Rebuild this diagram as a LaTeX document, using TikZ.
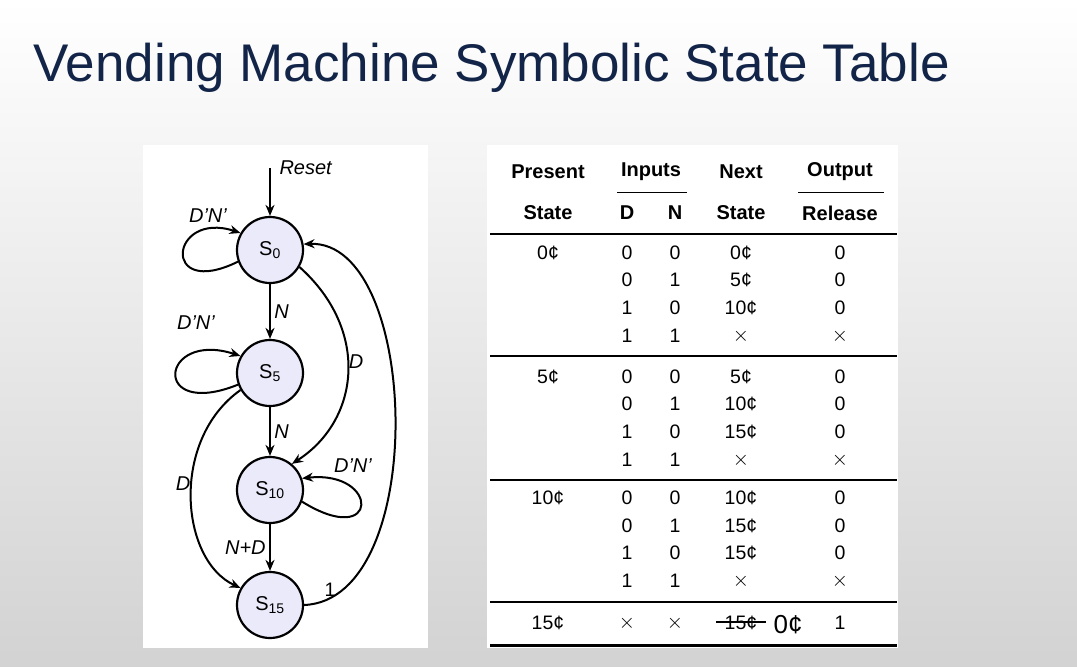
\documentclass[tikz,border=0pt]{standalone}
\usepackage{fontspec}
\setmainfont{Liberation Sans}
\usetikzlibrary{arrows.meta}
\definecolor{navy}{RGB}{18,36,72}
\definecolor{stfill}{RGB}{234,234,250}
\begin{document}
\begin{tikzpicture}[x=1pt,y=-1pt,
  st/.style={circle,draw,line width=2.2pt,fill=stfill,minimum size=66pt,inner sep=0pt,font=\fontsize{20}{20}\selectfont},
  ar/.style={line width=2pt,-{Stealth[length=11pt,width=9pt]}},
  lb/.style={font=\fontsize{20}{20}\selectfont\itshape},
  tx/.style={font=\fontsize{19.5}{20}\selectfont},
  hd/.style={font=\fontsize{20}{20}\selectfont\bfseries}]
\shade[top color=white,bottom color=gray!35] (0,0) rectangle (1077,667);
\useasboundingbox (0,0) rectangle (1077,667);
\node[anchor=west,text=navy,font=\fontsize{53}{53}\selectfont] (title) at (30,68) {Vending Machine Symbolic State Table};
\fill[white] (143,145) rectangle (428,648);
\fill[white] (487,145) rectangle (898,648);
% states
\node[st] (s0) at (270,250) {S\textsubscript{0}};
\node[st] (s5) at (270,373) {S\textsubscript{5}};
\node[st] (s10) at (270,490) {S\textsubscript{10}};
\node[st] (s15) at (270,605) {S\textsubscript{15}};
\coordinate (rst) at (270,168);
\draw[ar] (rst) -- (s0);
\node[lb,anchor=west] (rl) at (276,168) {Reset};
\draw[ar] (s0) -- node[lb,right] {N} (s5);
\draw[ar] (s5) -- node[lb,right] {N} (s10);
\draw[ar] (s10) -- node[lb,left] {N+D} (s15);
\draw[ar] (s0.200) .. controls (160,300) and (170,210) .. (s0.150);
\node[lb] (l0) at (208,216) {D'N'};
\draw[ar] (s5.200) .. controls (150,420) and (160,330) .. (s5.150);
\node[lb] (l5) at (196,323) {D'N'};
\draw[ar] (s10.-20) .. controls (380,550) and (380,470) .. (s10.20);
\node[lb] (l10) at (353,466) {D'N'};
\draw[ar] (s0.-30) .. controls (370,330) and (360,420) .. (s10.50);
\node[lb] (ld1) at (356,362) {D};
\draw[ar] (s5.-150) .. controls (170,440) and (180,560) .. (s15.150);
\node[lb] (ld2) at (183,484) {D};
\draw[ar] (s15.0) .. controls (430,600) and (420,240) .. (s0.10);
\node[tx] (l1) at (330,590) {1};
% table
\def\cp{548}\def\cd{627}\def\cn{675}\def\cx{741}\def\co{840}
\node[hd] (h1) at (\cp,172) {Present};
\node[hd] (h2) at (651,172) {Inputs};
\node[hd] (h3) at (\cx,172) {Next};
\node[hd] (h4) at (\co,172) {Output};
\node[hd] (h5) at (\cp,213) {State};
\node[hd] (h6) at (\cd,213) {D};
\node[hd] (h7) at (\cn,213) {N};
\node[hd] (h8) at (\cx,213) {State};
\node[hd] (h9) at (\co,213) {Release};
\draw[line width=0.8pt] (617,192) -- (687,192) (798,192) -- (884,192);
\draw[line width=1.6pt] (490,234) -- (897,234);
\draw[line width=1.2pt] (490,356) -- (897,356) (490,480) -- (897,480) (490,602) -- (897,602);
\draw[line width=3pt] (490,645) -- (897,645);
\newcommand\trow[6]{\node[tx] at (\cp,#1) {#2};\node[tx] at (\cd,#1) {#3};\node[tx] at (\cn,#1) {#4};\node[tx] at (\cx,#1) {#5};\node[tx] at (\co,#1) {#6};}
\trow{253}{0¢}{0}{0}{0¢}{0}
\trow{280}{}{0}{1}{5¢}{0}
\trow{308}{}{1}{0}{10¢}{0}
\trow{336}{}{1}{1}{$\times$}{$\times$}
\trow{377}{5¢}{0}{0}{5¢}{0}
\trow{404}{}{0}{1}{10¢}{0}
\trow{432}{}{1}{0}{15¢}{0}
\trow{460}{}{1}{1}{$\times$}{$\times$}
\trow{498}{10¢}{0}{0}{10¢}{0}
\trow{526}{}{0}{1}{15¢}{0}
\trow{553}{}{1}{0}{15¢}{0}
\trow{581}{}{1}{1}{$\times$}{$\times$}
\node[tx] at (\cp,623) {15¢};
\node[tx] at (\cd,623) {$\times$};
\node[tx] at (\cn,623) {$\times$};
\node[tx] (old) at (741,623) {15¢};
\draw[line width=1.2pt] (716,622) -- (766,622);
\node[font=\fontsize{26}{26}\selectfont] (new) at (788,625) {0¢};
\node[tx] at (\co,623) {1};
\end{tikzpicture}
\end{document}
